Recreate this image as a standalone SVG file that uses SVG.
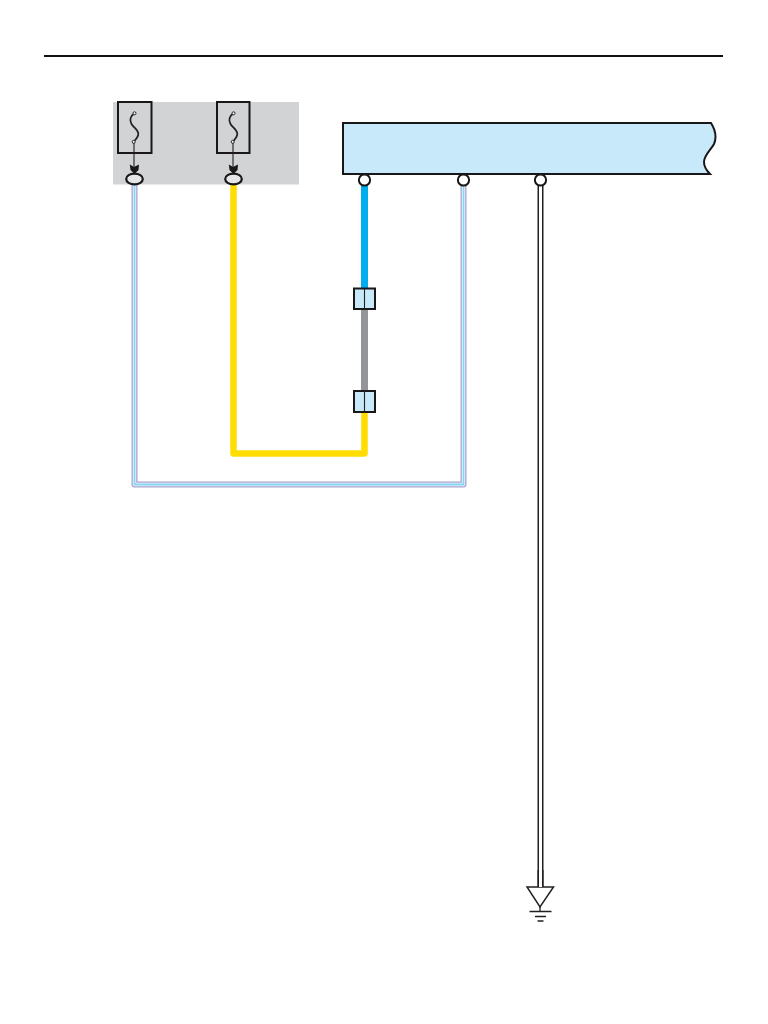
<svg xmlns="http://www.w3.org/2000/svg" width="768" height="1024" viewBox="0 0 768 1024">
<style>
.fuse{fill:none;stroke:#1a1718;stroke-width:2}
.thin{fill:none;stroke:#231f20;stroke-width:1.100}
.curve{fill:none;stroke:#231f20;stroke-width:1.700}
.term{fill:#fff;stroke:#1a1718;stroke-width:2}
.oval{fill:#e4e5e6;stroke:#1a1718;stroke-width:2.200}
.head{fill:#1a1718}
.pin{fill:#fff;stroke:#231f20;stroke-width:1}
.wire{fill:none;stroke-linejoin:round;stroke-linecap:butt}
.conn{fill:#c7e9f9;stroke:#1a1718;stroke-width:2}
.gnd{fill:none;stroke:#231f20;stroke-width:1.300}
</style>
<rect width="768" height="1024" fill="#fff"/>
<path d="M44 56H723" stroke="#111" stroke-width="2" fill="none"/>
<rect id="junction-block" x="113" y="102" width="186" height="82.500" fill="#d1d3d4"/>
<g id="connectors">
<path class="wire" d="M134.500 184V484.500H463.500V184" stroke="#aaa2cc" stroke-width="6"/>
<path class="wire" d="M134.500 184V484.500H463.500V184" stroke="#f4fbfe" stroke-width="3.400"/>
<path class="wire" d="M134.500 184V484.500H463.500V184" stroke="#86d4f4" stroke-width="1.800"/>
<path class="wire" d="M233.500 184V453.500H364.500V412" stroke="#ffdd00" stroke-width="6.500"/>
<path class="wire" d="M364.500 185V288" stroke="#00aeef" stroke-width="7"/>
<path class="wire" d="M364.500 309V391" stroke="#939598" stroke-width="7"/>
<path class="wire" d="M540.500 185V888" stroke="#231f20" stroke-width="6"/>
<path class="wire" d="M540.500 185V888" stroke="#fff" stroke-width="3"/>
</g>
<g id="fuse-1">
<rect class="fuse" x="118" y="102" width="33.500" height="51"/>
<path class="curve" d="M134.300 113.500C130 116 129.500 120.500 131.500 124C133.500 127.500 138 129.500 138.300 133.500C138.500 137 135.500 139.500 134 141.500"/>
<circle class="pin" cx="134.500" cy="113.300" r="1.500"/>
<circle class="pin" cx="133.700" cy="141.800" r="1.500"/>
<path class="thin" d="M134 143V168"/>
<ellipse class="oval" cx="134.500" cy="179" rx="8.300" ry="5.400"/>
<path class="head" d="M129.800 164.500L134 167L139 164.500L138.500 170L134.500 174L130.500 170Z"/>
</g>
<g id="fuse-2">
<rect class="fuse" x="217" y="102" width="32.500" height="51"/>
<path class="curve" d="M233.300 113.500C229 116 228.500 120.500 230.500 124C232.500 127.500 237 129.500 237.300 133.500C237.500 137 234.500 139.500 233 141.500"/>
<circle class="pin" cx="233.500" cy="113.300" r="1.500"/>
<circle class="pin" cx="232.700" cy="141.800" r="1.500"/>
<path class="thin" d="M233 143V168"/>
<ellipse class="oval" cx="233.500" cy="179" rx="8.300" ry="5.400"/>
<path class="head" d="M228.800 164.500L233 167L238 164.500L237.500 170L233.500 174L229.500 170Z"/>
</g>
<g id="ecu">
<path d="M343 123H711C716 131 717 137 714 144C711 150 704 155 704 162C704 167 707 171 710 174H343Z" fill="#c7e9f9" stroke="#1a1718" stroke-width="2"/>
<circle class="term" cx="364.500" cy="180" r="5.600"/>
<circle class="term" cx="463.500" cy="180" r="5.600"/>
<circle class="term" cx="540.500" cy="180" r="5.600"/>
</g>
<g id="connector-1">
<rect class="conn" x="354" y="288.500" width="21" height="20.500"/>
<path class="thin" d="M364.500 288.500V309"/>
</g>
<g id="connector-2">
<rect class="conn" x="354" y="391" width="21" height="21"/>
<path class="thin" d="M364.500 391V412"/>
</g>
<g id="ground">
<path d="M527 887H553.500L540 907Z" fill="#fff" stroke="#231f20" stroke-width="1.500"/>
<path class="wire" d="M540.500 870V887" stroke="#231f20" stroke-width="6"/>
<path class="wire" d="M540.500 870V887" stroke="#fff" stroke-width="3"/>
<path class="gnd" d="M540 907V911M529.500 911.500H551.500M535 916.500H546M537.500 921H543.500"/>
</g>
</svg>
